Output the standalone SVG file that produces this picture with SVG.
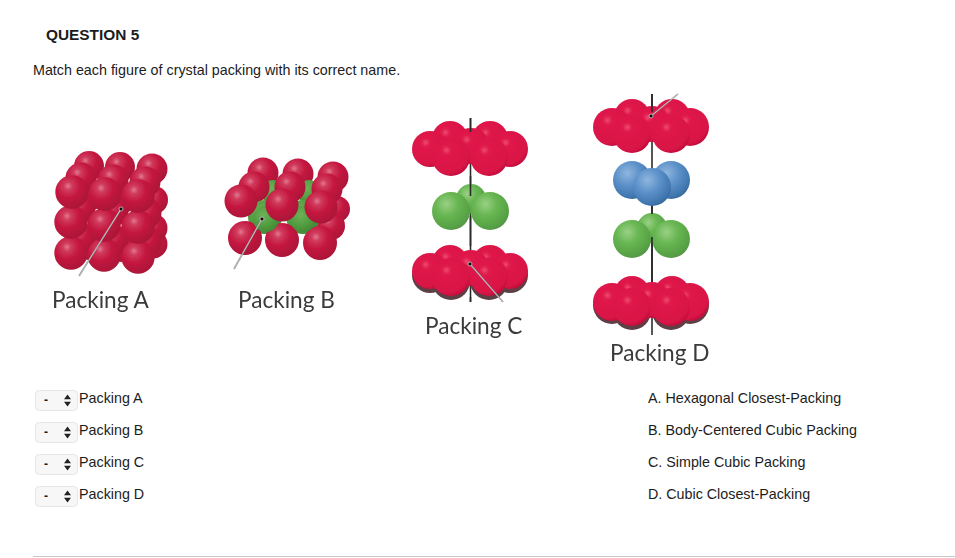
<svg xmlns="http://www.w3.org/2000/svg" width="955" height="558" viewBox="0 0 955 558">
<style>
.t{font-family:"Liberation Sans",Arial,sans-serif;font-size:14.3px;fill:#1c1c1c}
.l{font-family:Lato,"Open Sans",sans-serif;font-size:22.600px;fill:#3a3a3a}
.r{fill:url(#red)}.f{fill:url(#flat)}.g{fill:url(#green)}.h{fill:url(#deep)}.b{fill:url(#blue)}.s{fill:#5c3f44}
.box{fill:#f7f7f7;stroke:#e6e6e6;stroke-width:1}
.d{fill:#222}
.axis{stroke:#2a2a2a;stroke-width:1.600;fill:none}
.p1{stroke:#8a8a8a;stroke-width:1.600;fill:none}
.p2{stroke:#e4e4e4;stroke-width:.6;fill:none}
.dot{fill:#111;stroke:#ddd;stroke-width:.7}
</style>
<defs>
<radialGradient id="red" cx=".38" cy=".32" r=".72"><stop offset="0" stop-color="#e2788f"/><stop offset=".18" stop-color="#d03a5c"/><stop offset=".5" stop-color="#c4173f"/><stop offset="1" stop-color="#a91237"/></radialGradient>
<radialGradient id="flat" cx=".38" cy=".32" r=".75"><stop offset="0" stop-color="#ee4a70"/><stop offset=".16" stop-color="#e01a4b"/><stop offset=".8" stop-color="#d81245"/><stop offset="1" stop-color="#b91039"/></radialGradient>
<radialGradient id="green" cx=".38" cy=".32" r=".75"><stop offset="0" stop-color="#9ad084"/><stop offset=".4" stop-color="#68b653"/><stop offset=".85" stop-color="#55a043"/><stop offset="1" stop-color="#5f8a53"/></radialGradient>
<radialGradient id="deep" cx=".4" cy=".35" r=".75"><stop offset="0" stop-color="#6cb356"/><stop offset=".6" stop-color="#4f9a3e"/><stop offset="1" stop-color="#3f8233"/></radialGradient>
<radialGradient id="blue" cx=".38" cy=".32" r=".75"><stop offset="0" stop-color="#8fb6df"/><stop offset=".45" stop-color="#5b90c8"/><stop offset=".85" stop-color="#3f75ad"/><stop offset="1" stop-color="#33628f"/></radialGradient>
<filter id="soft" x="-5%" y="-5%" width="110%" height="110%"><feGaussianBlur stdDeviation=".5"/></filter>
<path id="updown" d="M0-6 3.500-1.200H-3.500ZM0 6 3.500 1.200H-3.500Z"/>
</defs>
<rect width="955" height="558" fill="#fff"/>
<text class="t" x="46" y="40" style="font-weight:bold;font-size:15.400px">QUESTION 5</text>
<text class="t" x="33" y="75">Match each figure of crystal packing with its correct name.</text>

<g id="packing-a" filter="url(#soft)">
<g class="r">
<circle cx="89" cy="245" r="15"/><circle cx="121" cy="247" r="15"/><circle cx="153" cy="244" r="14.500"/>
<circle cx="89" cy="196" r="15"/><circle cx="121" cy="199" r="15"/><circle cx="154" cy="200" r="14"/><circle cx="153" cy="228" r="14.500"/>
<circle cx="89" cy="166" r="15"/><circle cx="120" cy="167" r="15"/><circle cx="152" cy="169" r="15.500"/>
<circle cx="80" cy="238" r="15.500"/><circle cx="113" cy="240" r="15.500"/><circle cx="146" cy="242" r="15.500"/>
<circle cx="80" cy="208" r="15.500"/><circle cx="113" cy="211" r="15.500"/><circle cx="146" cy="213" r="15.500"/>
<circle cx="81" cy="178" r="15.500"/><circle cx="113" cy="180" r="15.500"/><circle cx="145" cy="182" r="15.500"/>
<circle cx="71" cy="253" r="16.700"/><circle cx="104" cy="255" r="16.700"/><circle cx="138" cy="257" r="16.700"/>
<circle cx="71" cy="222" r="16.700"/><circle cx="104" cy="225" r="16.700"/><circle cx="138" cy="227" r="16.700"/>
<circle cx="72" cy="192" r="16.700"/><circle cx="105" cy="194" r="16.700"/><circle cx="138" cy="196" r="16.700"/>
</g>
<path class="p1" d="M121 209 79 276"/><path class="p2" d="M121 209 79 276"/>
<circle class="dot" cx="121" cy="209" r="2"/>
<text class="l" x="52" y="308">Packing A</text>
</g>

<g id="packing-b" filter="url(#soft)">
<g class="r">
<circle cx="333" cy="177" r="15.500"/><circle cx="298" cy="174" r="15.500"/><circle cx="263" cy="173" r="15.500"/>
<circle cx="337" cy="209" r="13"/><circle cx="331" cy="226" r="14"/>
</g>
<g class="h">
<circle cx="273" cy="192" r="12"/><circle cx="309" cy="192" r="12"/>
</g>
<g class="r">
<circle cx="327" cy="189" r="15.500"/><circle cx="290" cy="187" r="15.500"/><circle cx="254" cy="187" r="15.500"/>
</g>
<g class="h">
<circle cx="265" cy="217" r="17"/><circle cx="303" cy="217" r="17"/>
</g>
<g class="r">
<circle cx="245" cy="238" r="17"/><circle cx="282" cy="240" r="17"/><circle cx="320" cy="243" r="17"/>
</g>
<circle class="h" cx="266" cy="219" r="13"/><circle class="h" cx="303" cy="219" r="13"/>
<g class="r">
<circle cx="241" cy="201" r="16.500"/><circle cx="282" cy="205" r="16.500"/><circle cx="321" cy="207" r="16.500"/>
</g>
<path class="p1" d="M262 219 234 269"/><path class="p2" d="M262 219 234 269"/>
<circle class="dot" cx="262" cy="219" r="2"/>
<text class="l" x="238" y="308">Packing B</text>
</g>

<g id="packing-c" filter="url(#soft)">
<path class="axis" d="M470.500 118V302"/>
<g class="f">
<circle cx="450" cy="139" r="18"/><circle cx="490" cy="139" r="18"/><circle cx="471" cy="146" r="18"/>
<circle cx="430" cy="149" r="18"/><circle cx="510" cy="149" r="18"/>
<circle cx="451" cy="157" r="19"/><circle cx="489" cy="157" r="19"/>
</g>
<path class="axis" d="M470.500 118V132"/>
<g class="g"><circle cx="471" cy="199" r="15"/><circle cx="451" cy="211" r="19"/><circle cx="490" cy="211" r="19"/></g>
<path class="axis" d="M470.500 176V196M470.500 216V246"/>
<g class="s"><circle cx="430" cy="275" r="18"/><circle cx="510" cy="275" r="18"/><circle cx="451" cy="281" r="19"/><circle cx="489" cy="281" r="19"/></g>
<g class="f">
<circle cx="450" cy="263" r="18"/><circle cx="490" cy="263" r="18"/><circle cx="471" cy="268" r="18"/>
<circle cx="430" cy="271" r="18"/><circle cx="510" cy="271" r="18"/>
<circle cx="451" cy="277" r="19"/><circle cx="489" cy="277" r="19"/>
</g>
<path class="axis" d="M470.500 297V302"/>
<path class="p1" d="M470 264 503 302"/><path class="p2" d="M470 264 503 302"/>
<circle class="dot" cx="470" cy="264" r="2"/>
<text class="l" x="425" y="334">Packing C</text>
</g>

<g id="packing-d" filter="url(#soft)">
<path class="axis" d="M652 94V335"/>
<g class="f">
<circle cx="632" cy="117" r="18"/><circle cx="672" cy="117" r="18"/><circle cx="652" cy="124" r="18"/>
<circle cx="612" cy="127" r="19"/><circle cx="690" cy="127" r="19"/>
<circle cx="632" cy="134" r="19"/><circle cx="671" cy="134" r="19"/>
</g>
<path class="axis" d="M652 94V112"/>
<path class="p1" d="M651 116 678 94"/><path class="p2" d="M651 116 678 94"/>
<circle class="dot" cx="651" cy="116" r="2"/>
<g class="b"><circle cx="632" cy="180" r="19"/><circle cx="671" cy="180" r="19"/><circle cx="652" cy="187" r="19"/></g>
<g class="g"><circle cx="652" cy="228" r="15"/><circle cx="632" cy="239" r="19"/><circle cx="671" cy="239" r="19"/></g>
<path class="axis" d="M652 206V214M652 237V285"/>
<g class="s"><circle cx="612" cy="305" r="19"/><circle cx="690" cy="305" r="19"/><circle cx="632" cy="311" r="19"/><circle cx="671" cy="311" r="19"/></g>
<g class="f">
<circle cx="632" cy="294" r="18"/><circle cx="672" cy="294" r="18"/><circle cx="652" cy="300" r="18"/>
<circle cx="612" cy="302" r="19"/><circle cx="690" cy="302" r="19"/>
<circle cx="632" cy="307" r="19"/><circle cx="671" cy="307" r="19"/>
</g>
<text class="l" x="610" y="361">Packing D</text>
</g>

<g id="select-a"><rect class="box" x="35.500" y="390.500" width="42" height="20" rx="4"/><text class="t" x="44" y="404" style="font-weight:bold;font-size:12px">-</text><use class="d" href="#updown" x="67.500" y="400.500"/><text class="t" x="79" y="403">Packing A</text></g>
<g id="select-b"><rect class="box" x="35.500" y="422.500" width="42" height="20" rx="4"/><text class="t" x="44" y="436" style="font-weight:bold;font-size:12px">-</text><use class="d" href="#updown" x="67.500" y="432.500"/><text class="t" x="79" y="435">Packing B</text></g>
<g id="select-c"><rect class="box" x="35.500" y="454.500" width="42" height="20" rx="4"/><text class="t" x="44" y="468" style="font-weight:bold;font-size:12px">-</text><use class="d" href="#updown" x="67.500" y="464.500"/><text class="t" x="79" y="467">Packing C</text></g>
<g id="select-d"><rect class="box" x="35.500" y="486.500" width="42" height="20" rx="4"/><text class="t" x="44" y="500" style="font-weight:bold;font-size:12px">-</text><use class="d" href="#updown" x="67.500" y="496.500"/><text class="t" x="79" y="499">Packing D</text></g>

<g id="answers">
<text class="t" x="648" y="403">A. Hexagonal Closest-Packing</text>
<text class="t" x="648" y="435">B. Body-Centered Cubic Packing</text>
<text class="t" x="648" y="467">C. Simple Cubic Packing</text>
<text class="t" x="648" y="499">D. Cubic Closest-Packing</text>
</g>
<path d="M33 556.500H955" stroke="#c8c8c8" stroke-width="1"/>
</svg>
